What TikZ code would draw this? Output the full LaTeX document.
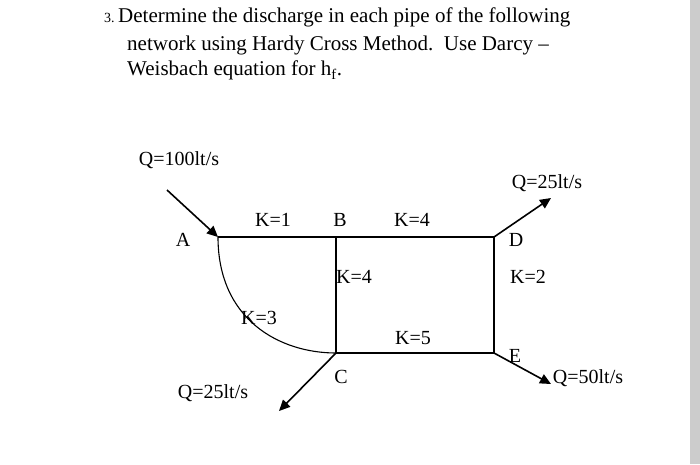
\documentclass[tikz,border=0pt]{standalone}
\usepackage{fontspec}
\setmainfont{Liberation Serif}
\usetikzlibrary{arrows.meta}
\begin{document}
\begin{tikzpicture}[x=1pt,y=-1pt,
  pipe/.style={line width=1.1pt},
  flow/.style={line width=1.6pt,-{Triangle[length=11pt,width=10pt]}},
  lbl/.style={font=\fontsize{20}{22}\selectfont,inner sep=0pt},
  ttl/.style={font=\fontsize{21}{26}\selectfont,inner sep=0pt,anchor=north west,align=left}]
\useasboundingbox (0,0) rectangle (700,464);
\fill[gray!40] (690,0) rectangle (700,464);
\node[ttl] (t1) at (104,8) {{\fontsize{14}{15}\selectfont 3.}\,Determine the discharge in each pipe of the following};
\node[ttl] (t2) at (127,36) {network using Hardy Cross Method.\ \ Use Darcy --};
\node[ttl] (t3) at (127,61) {Weisbach equation for h$_{\mathrm{f}}$.};
\coordinate (A) at (218,237);
\coordinate (B) at (336,237);
\coordinate (D) at (494,237);
\coordinate (E) at (494,353);
\coordinate (C) at (336,353);
\coordinate (qa) at (167,190);
\coordinate (qd) at (551,198);
\coordinate (qe) at (551,384);
\coordinate (qc) at (279,411);
\draw[pipe] (A) -- (B) -- (D) -- (E) -- (C) -- (B);
\draw[pipe] (A) .. controls (218,320) and (280,353) .. (C);
\draw[flow] (qa) -- (A);
\draw[flow] (D) -- (qd);
\draw[flow] (E) -- (qe);
\draw[flow] (C) -- (qc);
\node[lbl] (l1) at (179,160) {Q=100lt/s};
\node[lbl] (l2) at (273,220) {K=1};
\node[lbl] (l3) at (340,220) {B};
\node[lbl] (l4) at (412,220) {K=4};
\node[lbl] (l5) at (183,240) {A};
\node[lbl] (l6) at (547,183) {Q=25lt/s};
\node[lbl] (l7) at (516,240) {D};
\node[lbl] (l8) at (354,277) {K=4};
\node[lbl] (l9) at (528,277) {K=2};
\node[lbl] (l10) at (259,318) {K=3};
\node[lbl] (l11) at (413,338) {K=5};
\node[lbl] (l12) at (515,356) {E};
\node[lbl] (l13) at (341,377) {C};
\node[lbl] (l14) at (213,393) {Q=25lt/s};
\node[lbl] (l15) at (588,378) {Q=50lt/s};
\end{tikzpicture}
\end{document}
